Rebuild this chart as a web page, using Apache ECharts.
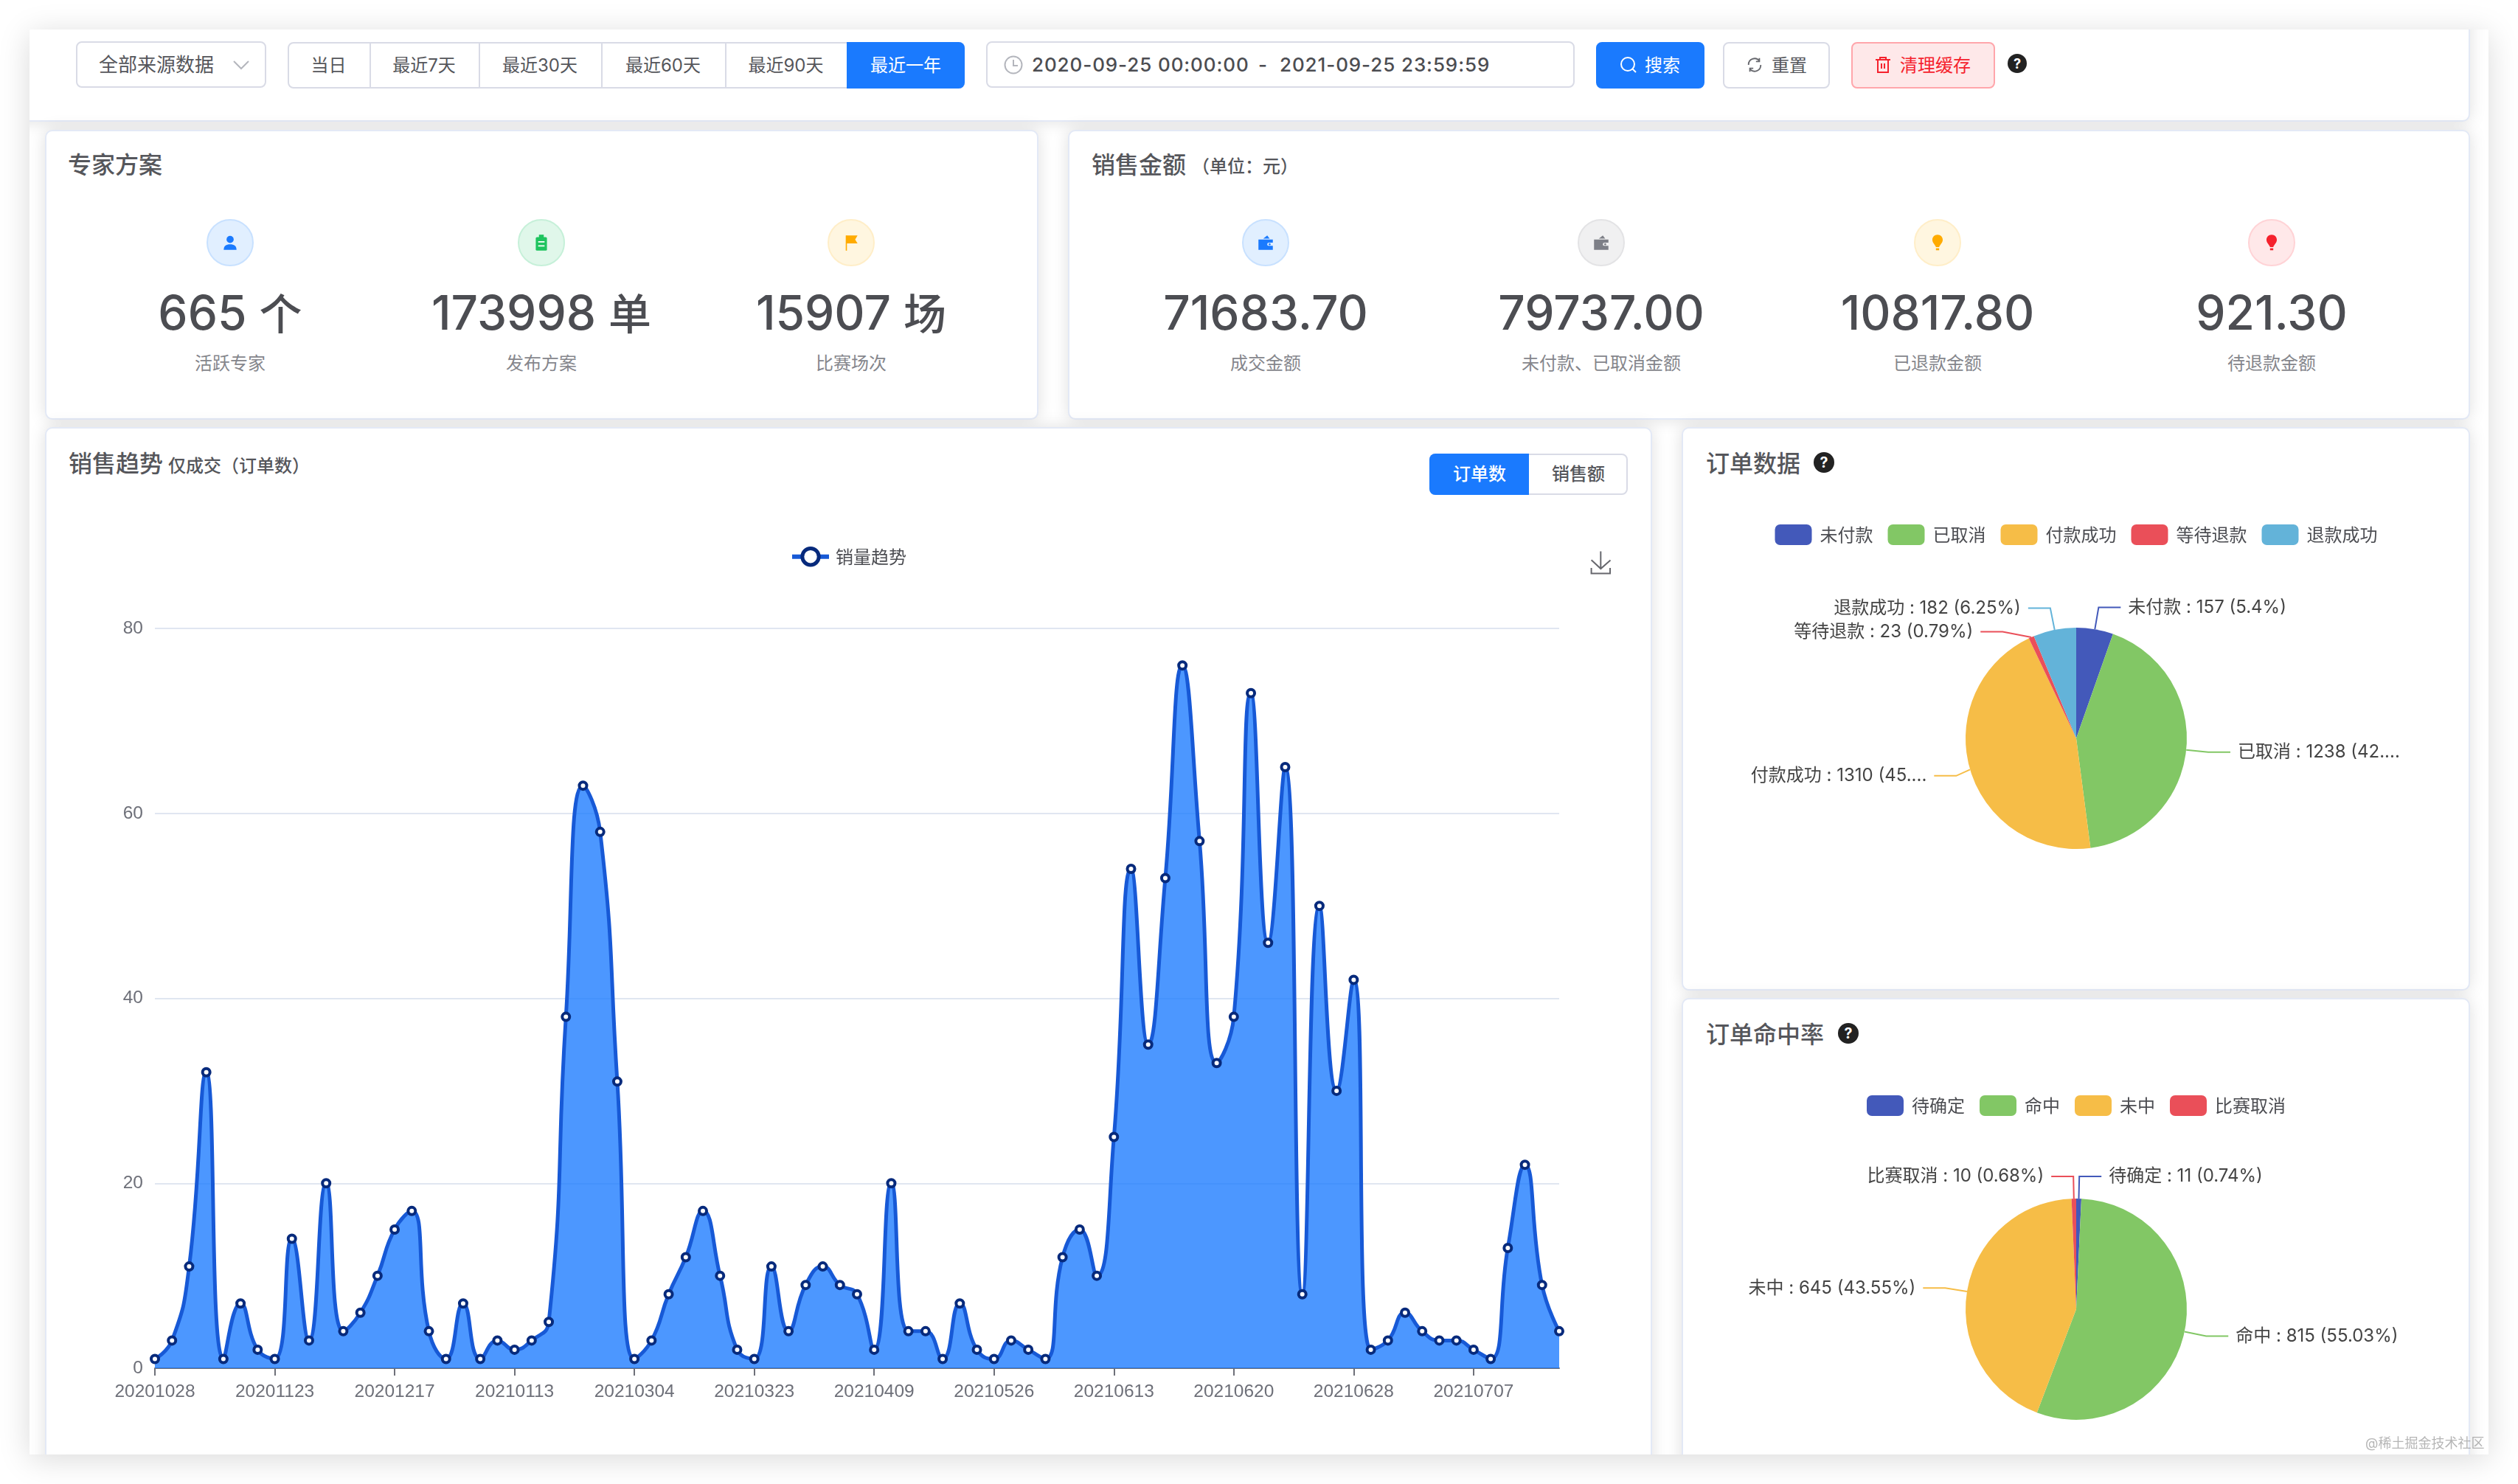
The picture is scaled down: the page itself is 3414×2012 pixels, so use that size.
<!DOCTYPE html>
<html>
<head>
<meta charset="utf-8">
<script src="https://cdn.jsdelivr.net/npm/echarts@6/dist/echarts.min.js"></script>
<style>
html, body { margin: 0; padding: 0; background: #fff; width: 3414px; height: 2012px; overflow: hidden; }
body, .t { font-family: Inter, "Noto Sans CJK SC", sans-serif; }
#shadow { position: absolute; left: 40px; top: 40px; width: 3334px; height: 1932px; background: #fff; box-shadow: 0 6px 40px rgba(0,0,0,.15); }
#page { position: absolute; left: 0; top: 0; width: 3414px; height: 2012px; clip-path: inset(40px 40px 40px 40px); }
.card { position: absolute; box-sizing: border-box; background: #fff; border: 2px solid #e3e9f6; border-radius: 10px; box-shadow: 0 0 22px rgba(0,0,0,.13); }
.box { position: absolute; box-sizing: border-box; background: #fff; border: 2px solid #d9dbe6; border-radius: 8px; }
.t { position: absolute; white-space: nowrap; line-height: 1; transform: translateY(-50%); }
.c { transform: translate(-50%, -50%); }
.chart { position: absolute; }
.round { position: absolute; box-sizing: border-box; width: 64px; height: 64px; border-radius: 50%; border: 2px solid; transform: translate(-50%, -50%); display: flex; align-items: center; justify-content: center; }
.help { position: absolute; border-radius: 50%; background: #222; color: #fff; font-size: 20px; font-weight: 700; display: flex; align-items: center; justify-content: center; transform: translate(-50%, -50%); }
#watermark { position: absolute; left: 3207px; top: 1955px; font-size: 18px; color: rgba(120,120,120,.55); transform: translateY(-50%); white-space: nowrap; }
</style>
</head>
<body>
<div id="shadow"></div>
<div id="page"></div>
<div id="watermark">@稀土掘金技术社区</div>
<script>
// 销售趋势
const trendDates = [
  '20201028','20201029','20201102','20201104','20201106','20201110','20201117','20201123',
  '20201125','20201127','20201130','20201203','20201207','20201211','20201217',
  '20201218','20201221','20201224','20201228','20210102','20210108','20210113',
  '20210118','20210125','20210201','20210207','20210220','20210227','20210304',
  '20210306','20210308','20210311','20210314','20210316','20210319','20210323',
  '20210325','20210328','20210330','20210401','20210403','20210406','20210409',
  '20210412','20210418','20210424','20210501','20210510','20210518','20210526',
  '20210601','20210604','20210606','20210608','20210610','20210612','20210613',
  '20210614','20210615','20210616','20210617','20210618','20210619','20210620',
  '20210621','20210622','20210623','20210624','20210625','20210627','20210628',
  '20210629','20210630','20210701','20210702','20210703','20210705','20210707',
  '20210708','20210709','20210710','20210712','20210714'
];
const trendValues = [
  1,3,11,32,1,7,2,1,14,3,20,4,6,10,15,17,4,1,7,1,3,2,3,5,38,63,58,31,
  1,3,8,12,17,10,2,1,11,4,9,11,9,8,2,20,4,4,1,7,2,1,3,2,1,12,15,10,
  25,54,35,53,76,57,33,38,73,46,65,8,50,30,42,2,3,6,4,3,3,2,1,13,22,9,4
];
// 饼图
const orderNames = ['未付款','已取消','付款成功','等待退款','退款成功'];
const orderValues = [157,1238,1310,23,182];
const hitNames = ['待确定','命中','未中','比赛取消'];
const hitValues = [11,815,645,10];
const pieColors = ['#4359ba','#82c765','#f6bd47','#ea4f59','#63b3d9'];
// 顶部卡片
const rangeTabs = ['当日','最近7天','最近30天','最近60天','最近90天','最近一年'];
const tabEdges = [390,501,649,815,983,1148,1308];
const planStats = [
  { value: '665', unit: '个', label: '活跃专家', icon: 'user', tone: 'blue', cx: 312 },
  { value: '173998', unit: '单', label: '发布方案', icon: 'doc', tone: 'green', cx: 734 },
  { value: '15907', unit: '场', label: '比赛场次', icon: 'flag', tone: 'yellow', cx: 1154 }
];
const saleStats = [
  { value: '71683.70', unit: '', label: '成交金额', icon: 'wallet', tone: 'blue', cx: 1716 },
  { value: '79737.00', unit: '', label: '未付款、已取消金额', icon: 'wallet', tone: 'gray', cx: 2171 },
  { value: '10817.80', unit: '', label: '已退款金额', icon: 'bulb', tone: 'yellow', cx: 2627 },
  { value: '921.30', unit: '', label: '待退款金额', icon: 'bulb', tone: 'red', cx: 3080 }
];

const TONE = {
  blue: ['#e1efff', '#c8e1ff', '#1a7afe'],
  green: ['#e0f7ea', '#c6f0d9', '#1fc45f'],
  yellow: ['#fff6e0', '#ffeec8', '#ffab00'],
  gray: ['#f0f0f1', '#e3e3e5', '#7d7f87'],
  red: ['#ffe8e9', '#ffd3d6', '#f5222d']
};
const ICON = {
  user: c => `<circle cx="12" cy="8" r="4.5" fill="${c}"/><path d="M4 21c0-5 3-7 8-7s8 2 8 7z" fill="${c}"/>`,
  doc: c => `<rect x="5" y="5" width="14" height="17" rx="1.5" fill="${c}"/><rect x="9" y="2" width="6" height="4" fill="${c}"/><path d="M8 11h8M8 16h8" stroke="#fff" stroke-width="1.6"/>`,
  flag: c => `<path d="M6 3v19" stroke="${c}" stroke-width="1.5"/><path d="M6 3h14l-3 5 3 5H6z" fill="${c}"/>`,
  wallet: c => `<path d="M3 8h18v4h-5a2 2 0 000 4h5v5H3z" fill="${c}"/><path d="M9 7l5-4 3 4z" fill="${c}"/><circle cx="17" cy="14" r="1.2" fill="${c}"/>`,
  bulb: c => `<path d="M12 2c4 0 6.5 3 6.5 6.5 0 3.5-3.5 6-4.5 9h-4c-1-3-4.5-5.5-4.5-9C5.500 5 8 2 12 2z" fill="${c}"/><rect x="10" y="19" width="4" height="2.500" fill="${c}"/>`
};

const page = document.getElementById('page');

function add(html) {
  page.insertAdjacentHTML('beforeend', html);
}

function card(x, y, r, b) {
  add(`<div class="card" style="left:${x}px;top:${y}px;width:${r - x}px;height:${b - y}px"></div>`);
}

function box(x, y, r, b, extra) {
  add(`<div class="box" style="left:${x}px;top:${y}px;width:${r - x}px;height:${b - y}px;${extra || ''}"></div>`);
}

function text(s, x, y, size, color, opt) {
  opt = opt || {};
  add(`<div class="t ${opt.center ? 'c' : ''}" style="left:${x}px;top:${y}px;font-size:${size}px;color:${color};font-weight:${opt.weight || 400};letter-spacing:${opt.spacing || 0}px">${s}</div>`);
}

function help(x, y, d) {
  add(`<div class="help" style="left:${x}px;top:${y}px;width:${d}px;height:${d}px;font-size:${d * 0.7}px">?</div>`);
}

function renderStat(s) {
  const [bg, line, fg] = TONE[s.tone];
  add(`<div class="round" style="left:${s.cx}px;top:329px;background:${bg};border-color:${line}">
    <svg width="26" height="26" viewBox="0 0 24 24">${ICON[s.icon](fg)}</svg></div>`);
  const unit = s.unit ? ` <span style="font-size:58px">${s.unit}</span>` : '';
  text(s.value + unit, s.cx, 424, 64, '#4c4d52', { center: true, weight: 500 });
  text(s.label, s.cx, 493, 24, '#85868c', { center: true });
}

function renderFrame() {
  card(-20, -20, 3349, 165);
  card(61, 176, 1408, 569);
  card(1448, 176, 3349, 569);
  card(61, 579, 2240, 2100);
  card(2280, 579, 3349, 1343);
  card(2280, 1353, 3349, 2100);

  // 筛选栏
  box(103, 56, 361, 119);
  text('全部来源数据', 134, 88, 26, '#55565b');
  add(`<svg style="position:absolute;left:316px;top:82px" width="22" height="13" viewBox="0 0 22 13"><path d="M1 1l10 10L21 1" fill="none" stroke="#b4b6bd" stroke-width="2"/></svg>`);

  box(tabEdges[0], 57, tabEdges[6], 120);
  for (let i = 1; i < 5; i++) {
    add(`<div style="position:absolute;left:${tabEdges[i]}px;top:57px;width:2px;height:63px;background:#d9dbe6"></div>`);
  }
  add(`<div style="position:absolute;left:${tabEdges[5]}px;top:57px;width:${tabEdges[6] - tabEdges[5]}px;height:63px;background:#1a7afe;border-radius:0 8px 8px 0"></div>`);
  rangeTabs.forEach((s, i) => {
    text(s, (tabEdges[i] + tabEdges[i + 1]) / 2, 89, 24, i === 5 ? '#fff' : '#55565b', { center: true });
  });

  box(1337, 56, 2135, 119);
  add(`<svg style="position:absolute;left:1361px;top:75px" width="26" height="26" viewBox="0 0 26 26"><circle cx="13" cy="13" r="11.500" fill="none" stroke="#b4b6bd" stroke-width="2"/><path d="M13 6v8h6" fill="none" stroke="#b4b6bd" stroke-width="2"/></svg>`);
  text('2020-09-25 00:00:00', 1399, 88, 26, '#4c4d52', { weight: 500, spacing: 0.9 });
  text('-', 1706, 88, 26, '#4c4d52', { weight: 500 });
  text('2021-09-25 23:59:59', 1735, 88, 26, '#4c4d52', { weight: 500, spacing: 0.9 });

  box(2164, 57, 2311, 120, 'background:#1a7afe;border-color:#1a7afe');
  add(`<svg style="position:absolute;left:2196px;top:76px" width="24" height="24" viewBox="0 0 24 24"><circle cx="11" cy="11" r="9" fill="none" stroke="#fff" stroke-width="2"/><path d="M17 17l5 5" stroke="#fff" stroke-width="2"/></svg>`);
  text('搜索', 2230, 89, 24, '#fff');

  box(2336, 57, 2481, 120);
  add(`<svg style="position:absolute;left:2368px;top:77px" width="22" height="22" viewBox="0 0 24 24"><path d="M21 12a9 9 0 01-16 6M3 12a9 9 0 0116-6" fill="none" stroke="#66676d" stroke-width="2"/><path d="M19 2v5h-5M5 22v-5h5" fill="none" stroke="#66676d" stroke-width="2"/></svg>`);
  text('重置', 2402, 89, 24, '#55565b');

  box(2510, 57, 2705, 120, 'background:#fee8e9;border-color:#ffa6ab');
  add(`<svg style="position:absolute;left:2541px;top:76px" width="24" height="24" viewBox="0 0 24 24"><path d="M2 5h20M8 5V2h8v3M5 5v17h14V5M10 10v7M14 10v7" fill="none" stroke="#f5222d" stroke-width="2"/></svg>`);
  text('清理缓存', 2576, 89, 24, '#f5222d');
  help(2735, 86, 26);

  // 卡片标题
  text('专家方案', 92, 224, 32, '#55565b', { weight: 500 });
  text('销售金额', 1480, 224, 32, '#55565b', { weight: 500 });
  text('（单位：元）', 1616, 226, 24, '#55565b', { weight: 500 });
  text('销售趋势', 93, 629, 32, '#55565b', { weight: 500 });
  text('仅成交（订单数）', 228, 632, 24, '#55565b', { weight: 500 });
  text('订单数据', 2313, 629, 32, '#55565b', { weight: 500 });
  help(2473, 627, 28);
  text('订单命中率', 2313, 1403, 32, '#55565b', { weight: 500 });
  help(2506, 1401, 28);

  // 切换按钮
  box(1938, 615, 2207, 671);
  add(`<div style="position:absolute;left:1938px;top:615px;width:135px;height:56px;background:#1a7afe;border-radius:8px 0 0 8px"></div>`);
  text('订单数', 2006, 643, 24, '#fff', { center: true, weight: 500 });
  text('销售额', 2140, 643, 24, '#55565b', { center: true, weight: 500 });

  planStats.forEach(renderStat);
  saleStats.forEach(renderStat);

  add('<div id="trendChart" class="chart" style="left:62px;top:580px;width:2176px;height:1392px"></div>');
  add('<div id="orderPie" class="chart" style="left:2361px;top:680px;width:908px;height:650px"></div>');
  add('<div id="hitPie" class="chart" style="left:2345px;top:1460px;width:940px;height:512px"></div>');
}

function renderTrend() {
  const chart = echarts.init(document.getElementById('trendChart'));
  chart.setOption({
    animation: false,
    textStyle: { fontFamily: 'Inter, "Noto Sans CJK SC", sans-serif' },
    legend: {
      top: 156,
      itemWidth: 50,
      itemHeight: 28,
      itemGap: 20,
      itemStyle: { borderWidth: 5, borderColor: '#072a7c' },
      lineStyle: { width: 6 },
      textStyle: { fontSize: 24, color: '#4c4d52', padding: [0, 0, 0, 4], fontFamily: '"Noto Sans CJK SC", sans-serif' }
    },
    toolbox: {
      right: 37,
      top: 150,
      itemSize: 30,
      iconStyle: { borderColor: '#66676d', borderWidth: 2 },
      feature: { saveAsImage: { title: '' } }
    },
    grid: { left: 148, right: 124, top: 272, bottom: 117 },
    xAxis: {
      type: 'category',
      data: trendDates,
      boundaryGap: false,
      axisLine: { lineStyle: { color: '#6e7079', width: 2 } },
      axisTick: { alignWithLabel: true, length: 10, lineStyle: { width: 2 }, interval: 6 },
      axisLabel: { interval: 6, fontSize: 24.5, color: '#6e7079', margin: 20, fontFamily: '"Liberation Sans", sans-serif' }
    },
    yAxis: {
      type: 'value',
      min: 0,
      max: 80,
      interval: 20,
      axisLabel: { fontSize: 24.5, color: '#6e7079', margin: 16, padding: [8, 0, 0, 0], fontFamily: '"Liberation Sans", sans-serif' },
      splitLine: { lineStyle: { color: '#e0e6f1', width: 2 } }
    },
    series: [{
      name: '销量趋势',
      type: 'line',
      data: trendValues,
      smooth: true,
      showAllSymbol: true,
      symbol: 'circle',
      symbolSize: 10,
      color: '#1759d6',
      itemStyle: { color: '#fff', borderColor: '#072a7c', borderWidth: 4 },
      lineStyle: { color: '#1759d6', width: 5 },
      areaStyle: { color: '#1a7aff', opacity: 0.78 }
    }]
  });
}

function renderPie(id, names, values, centerY, legendTop) {
  const chart = echarts.init(document.getElementById(id));
  chart.setOption({
    animation: false,
    color: pieColors,
    textStyle: { fontFamily: 'Inter, "Noto Sans CJK SC", sans-serif' },
    legend: {
      top: legendTop,
      itemWidth: 50,
      itemHeight: 28,
      itemGap: 20,
      data: names,
      textStyle: { fontSize: 24, color: '#4c4d52', padding: [0, 0, 0, 6], fontFamily: '"Noto Sans CJK SC", sans-serif' }
    },
    series: [{
      type: 'pie',
      center: ['50%', centerY],
      radius: 150,
      label: {
        formatter: '{b} : {c} ({d}%)',
        fontSize: 24,
        lineHeight: 30,
        color: '#444',
        fontFamily: 'Inter, "Noto Sans CJK SC", sans-serif',
        distanceToLabelLine: 10
      },
      labelLine: { length: 30, length2: 30, lineStyle: { width: 2 } },
      data: names.map((n, i) => ({ name: n, value: values[i] }))
    }]
  });
}

renderFrame();
renderTrend();
renderPie('orderPie', orderNames, orderValues, 321, 26);
renderPie('hitPie', hitNames, hitValues, 315, 20);
</script>
</body>
</html>
